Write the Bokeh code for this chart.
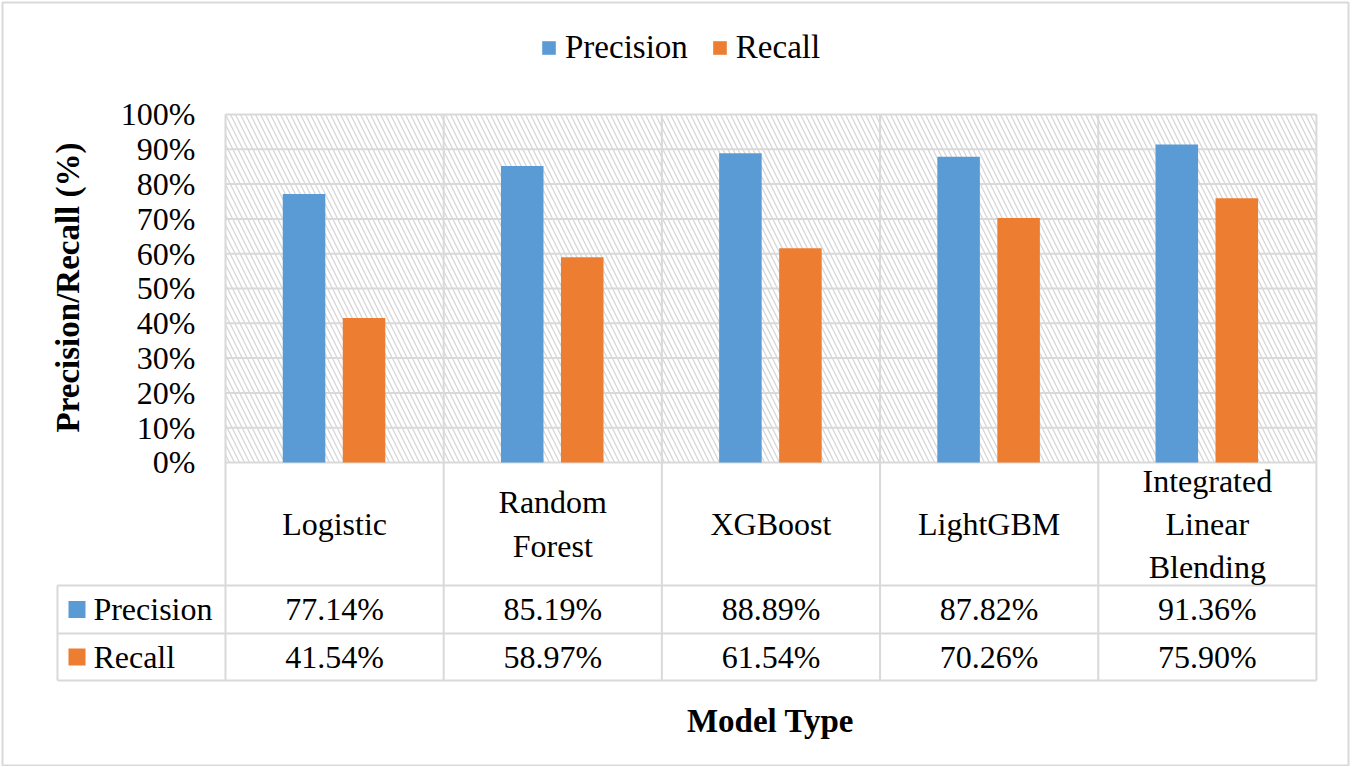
import math
from bokeh.plotting import figure
from bokeh.models import Range1d, Legend, LegendItem, ColumnDataSource
from bokeh.transform import dodge
from bokeh.core.properties import value
from bokeh.embed import file_html
from bokeh.resources import INLINE

# data
models = ["Logistic", "Random\nForest", "XGBoost", "LightGBM", "Integrated\nLinear\nBlending"]
precision = [0.7714, 0.8519, 0.8889, 0.8782, 0.9136]
recall = [0.4154, 0.5897, 0.6154, 0.7026, 0.7590]
series = ["Precision", "Recall"]
colors = ["#5B9BD5", "#ED7D31"]
ticks = [0.0, 0.1, 0.2, 0.3, 0.4, 0.5, 0.6, 0.7, 0.8, 0.9, 1.0]
tick_labels = ["0%", "10%", "20%", "30%", "40%", "50%", "60%", "70%", "80%", "90%", "100%"]

FAMILY = "Liberation Serif"
FONT = value(FAMILY)
GRID = "#d9d9d9"

idx = list(range(len(models)))
src = ColumnDataSource(data=dict(x=idx, precision=precision, recall=recall))

# layout positions (data units) of the table under the plot area
cat_y = -0.177
table_top = -0.3534
row_mid = -0.4914
table_bottom = -0.6264
row_y = [-0.4224, -0.5589]
table_left = -1.270

p = figure(width=1350, height=766, x_range=Range1d(-1.522, 4.647),
           y_range=Range1d(-0.8707, 1.3218), output_backend="svg",
           toolbar_location=None, min_border_left=2, min_border_top=2,
           min_border_right=2, min_border_bottom=1,
           x_axis_location=None, y_axis_location=None)
p.xgrid.visible = False
p.ygrid.visible = False
p.outline_line_color = GRID
p.outline_line_width = 2
p.background_fill_color = "white"
p.border_fill_color = "white"

# hatched plot area
p.quad(left=-0.5, right=4.5, bottom=0, top=1, fill_color="white", line_color=None,
       hatch_pattern="\\", hatch_color="#d6d6d6", hatch_scale=10, hatch_weight=1.3)

# horizontal grid lines
p.segment(x0=[-0.5] * len(ticks), x1=[4.5] * len(ticks), y0=ticks, y1=ticks,
          line_color=GRID, line_width=2)
# vertical separators running through the table
bounds = [i - 0.5 for i in range(len(models) + 1)]
p.segment(x0=bounds, x1=bounds, y0=[1] * len(bounds), y1=[table_bottom] * len(bounds),
          line_color=GRID, line_width=2)
# table rows
hl = [table_top, row_mid, table_bottom]
p.segment(x0=[table_left] * 3, x1=[4.5] * 3, y0=hl, y1=hl, line_color=GRID, line_width=2)
p.segment(x0=[table_left], x1=[table_left], y0=[table_top], y1=[table_bottom],
          line_color=GRID, line_width=2)

# bars
rp = p.vbar(x=dodge("x", -0.14), top="precision", width=0.195, source=src,
            fill_color=colors[0], line_color=None)
rr = p.vbar(x=dodge("x", 0.135), top="recall", width=0.195, source=src,
            fill_color=colors[1], line_color=None)

# y tick labels
p.text(x=[-0.6375] * len(ticks), y=ticks, text=tick_labels, text_font=FONT,
       text_font_size="32px", text_align="right", text_baseline="middle", text_color="black")

# category labels
p.text(x=idx, y=[cat_y] * len(idx), text=models, text_font=FONT, text_font_size="32px",
       text_align="center", text_baseline="middle", text_color="black")

# table values
p.text(x=idx, y=[row_y[0]] * len(idx), text=[f"{v * 100:.2f}%" for v in precision],
       text_font=FONT, text_font_size="32px", text_align="center", text_baseline="middle",
       text_color="black")
p.text(x=idx, y=[row_y[1]] * len(idx), text=[f"{v * 100:.2f}%" for v in recall],
       text_font=FONT, text_font_size="32px", text_align="center", text_baseline="middle",
       text_color="black")

# legend keys inside the table
p.scatter(x=[-1.1806] * 2, y=row_y, marker="square", size=17, fill_color=colors,
          line_color=None)
p.text(x=[-1.1055] * 2, y=row_y, text=series, text_font=FONT, text_font_size="32px",
       text_align="left", text_baseline="middle", text_color="black")

# axis titles
p.text(x=[-1.224], y=[0.503], text=["Precision/Recall (%)"], angle=math.pi / 2,
       text_font=FONT, text_font_size="33px", text_font_style="bold",
       text_align="center", text_baseline="middle", text_color="black")
p.text(x=[1.998], y=[-0.7414], text=["Model Type"], text_font=FONT, text_font_size="33px",
       text_font_style="bold", text_align="center", text_baseline="middle", text_color="black")

# top legend
legend = Legend(items=[LegendItem(label=series[0], renderers=[rp]),
                       LegendItem(label=series[1], renderers=[rr])],
                orientation="horizontal", location=(538, 699))
legend.padding = 0
legend.margin = 0
legend.spacing = 23
legend.glyph_width = 17
legend.glyph_height = 17
legend.label_standoff = 8
legend.label_text_font = FAMILY
legend.label_text_font_size = "33px"
legend.label_text_color = "black"
legend.border_line_color = None
legend.background_fill_alpha = 0
p.add_layout(legend)

open("out.html", "w").write(file_html(p, INLINE))
